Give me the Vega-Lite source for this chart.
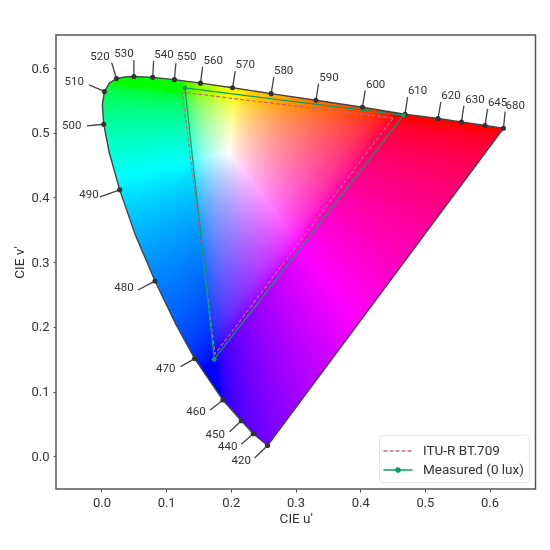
{
"$schema":"https://vega.github.io/schema/vega-lite/v6.json",
"width":479.5,"height":454,
"autosize":"none",
"padding":{"left":56,"top":35,"right":14.5,"bottom":61},
"background":"white",
"config":{"view":{"stroke":"#555555","strokeWidth":1.5},"font":"Roboto"},
"datasets":{
"locus":[
{"wl":420,"u":0.2568,"v":0.0166},{"wl":440,"u":0.2347,"v":0.035},{"wl":450,"u":0.2161,"v":0.0549},{"wl":460,"u":0.1877,"v":0.0871},{"wl":470,"u":0.1441,"v":0.151},{"wl":475,"u":0.1147,"v":0.2044},{"wl":480,"u":0.0828,"v":0.2708},{"wl":485,"u":0.0521,"v":0.3427},{"wl":490,"u":0.0282,"v":0.4117},{"wl":495,"u":0.0119,"v":0.4698},{"wl":500,"u":0.0035,"v":0.5131},{"wl":505,"u":0.0014,"v":0.5432},{"wl":510,"u":0.0046,"v":0.5638},{"wl":515,"u":0.0123,"v":0.577},{"wl":520,"u":0.0231,"v":0.5837},{"wl":525,"u":0.036,"v":0.5861},{"wl":530,"u":0.0501,"v":0.5868},{"wl":540,"u":0.0792,"v":0.5856},{"wl":550,"u":0.1127,"v":0.5821},{"wl":560,"u":0.1531,"v":0.5766},{"wl":570,"u":0.2026,"v":0.5694},{"wl":580,"u":0.2623,"v":0.5604},{"wl":590,"u":0.3315,"v":0.5501},{"wl":600,"u":0.4035,"v":0.5393},{"wl":610,"u":0.4692,"v":0.5285},{"wl":620,"u":0.5203,"v":0.5219},{"wl":630,"u":0.5565,"v":0.5165},{"wl":645,"u":0.5929,"v":0.5111},{"wl":680,"u":0.6215,"v":0.507},{"wl":700,"u":0.2568,"v":0.0166}
],
"sectors":[
{"sec":"G","i":0,"u":0.1978,"v":0.4683},{"sec":"G","i":1,"u":0.0225,"v":0.4305},{"sec":"G","i":2,"u":0.0119,"v":0.4698},{"sec":"G","i":3,"u":0.0035,"v":0.5131},{"sec":"G","i":4,"u":0.0014,"v":0.5432},{"sec":"G","i":5,"u":0.0046,"v":0.5638},{"sec":"G","i":6,"u":0.0123,"v":0.577},{"sec":"G","i":7,"u":0.0231,"v":0.5837},{"sec":"G","i":8,"u":0.036,"v":0.5861},{"sec":"G","i":9,"u":0.0501,"v":0.5868},{"sec":"G","i":10,"u":0.0792,"v":0.5856},{"sec":"G","i":11,"u":0.1127,"v":0.5821},{"sec":"G","i":12,"u":0.1531,"v":0.5766},{"sec":"G","i":13,"u":0.2026,"v":0.5694},{"sec":"G","i":14,"u":0.2045,"v":0.5692},
{"sec":"B","i":0,"u":0.1978,"v":0.4683},{"sec":"B","i":1,"u":0.399,"v":0.2079},{"sec":"B","i":2,"u":0.2568,"v":0.0166},{"sec":"B","i":3,"u":0.2347,"v":0.035},{"sec":"B","i":4,"u":0.2161,"v":0.0549},{"sec":"B","i":5,"u":0.1877,"v":0.0871},{"sec":"B","i":6,"u":0.1441,"v":0.151},{"sec":"B","i":7,"u":0.1147,"v":0.2044},{"sec":"B","i":8,"u":0.0828,"v":0.2708},{"sec":"B","i":9,"u":0.0521,"v":0.3427},{"sec":"B","i":10,"u":0.0282,"v":0.4117},{"sec":"B","i":11,"u":0.0225,"v":0.4305},
{"sec":"R","i":0,"u":0.1978,"v":0.4683},{"sec":"R","i":1,"u":0.2045,"v":0.5692},{"sec":"R","i":2,"u":0.2623,"v":0.5604},{"sec":"R","i":3,"u":0.3315,"v":0.5501},{"sec":"R","i":4,"u":0.4035,"v":0.5393},{"sec":"R","i":5,"u":0.4692,"v":0.5285},{"sec":"R","i":6,"u":0.5203,"v":0.5219},{"sec":"R","i":7,"u":0.5565,"v":0.5165},{"sec":"R","i":8,"u":0.5929,"v":0.5111},{"sec":"R","i":9,"u":0.6215,"v":0.507},{"sec":"R","i":10,"u":0.399,"v":0.2079}
],
"labels":[
{"t":"420","u":0.2568,"v":0.0166,"tu":0.2368,"tv":-0.0026,"lu":0.2161,"lv":-0.0073},
{"t":"440","u":0.2347,"v":0.035,"tu":0.2161,"tv":0.0185,"lu":0.1951,"lv":0.0139},
{"t":"450","u":0.2161,"v":0.0549,"tu":0.1981,"tv":0.038,"lu":0.1759,"lv":0.0334},
{"t":"460","u":0.1877,"v":0.0871,"tu":0.1682,"tv":0.0716,"lu":0.1461,"lv":0.0685},
{"t":"470","u":0.1441,"v":0.151,"tu":0.1224,"tv":0.1385,"lu":0.0992,"lv":0.1354},
{"t":"480","u":0.0828,"v":0.2708,"tu":0.0564,"tv":0.257,"lu":0.0348,"lv":0.2601},
{"t":"490","u":0.0282,"v":0.4117,"tu":-0.0023,"tv":0.4008,"lu":-0.0193,"lv":0.4039},
{"t":"500","u":0.0035,"v":0.5131,"tu":-0.0224,"tv":0.5105,"lu":-0.0461,"lv":0.511},
{"t":"510","u":0.0046,"v":0.5638,"tu":-0.0193,"tv":0.5739,"lu":-0.042,"lv":0.5785},
{"t":"520","u":0.0231,"v":0.5837,"tu":0.0158,"tv":0.6083,"lu":-0.0023,"lv":0.6167},
{"t":"530","u":0.0501,"v":0.5868,"tu":0.0502,"tv":0.6125,"lu":0.0348,"lv":0.6218},
{"t":"540","u":0.0792,"v":0.5856,"tu":0.0807,"tv":0.6114,"lu":0.0966,"lv":0.6207},
{"t":"550","u":0.1127,"v":0.5821,"tu":0.1151,"tv":0.6074,"lu":0.1317,"lv":0.6167},
{"t":"560","u":0.1531,"v":0.5766,"tu":0.1564,"tv":0.6022,"lu":0.1728,"lv":0.6114},
{"t":"570","u":0.2026,"v":0.5694,"tu":0.2068,"tv":0.5951,"lu":0.2223,"lv":0.6043},
{"t":"580","u":0.2623,"v":0.5604,"tu":0.2666,"tv":0.5862,"lu":0.2816,"lv":0.596},
{"t":"590","u":0.3315,"v":0.5501,"tu":0.3357,"tv":0.5759,"lu":0.3516,"lv":0.5852},
{"t":"600","u":0.4035,"v":0.5393,"tu":0.4077,"tv":0.5651,"lu":0.4238,"lv":0.5743},
{"t":"610","u":0.4692,"v":0.5285,"tu":0.4733,"tv":0.5549,"lu":0.4887,"lv":0.5641},
{"t":"620","u":0.5203,"v":0.5219,"tu":0.5247,"tv":0.5476,"lu":0.5402,"lv":0.5569},
{"t":"630","u":0.5565,"v":0.5165,"tu":0.5603,"tv":0.5419,"lu":0.5773,"lv":0.5507},
{"t":"645","u":0.5929,"v":0.5111,"tu":0.5969,"tv":0.5368,"lu":0.6124,"lv":0.5465},
{"t":"680","u":0.6215,"v":0.507,"tu":0.6241,"tv":0.5326,"lu":0.6396,"lv":0.5414}
],
"tri":[
{"s":"ITU-R BT.709","i":0,"u":0.4507,"v":0.5229},{"s":"ITU-R BT.709","i":1,"u":0.125,"v":0.5625},{"s":"ITU-R BT.709","i":2,"u":0.1754,"v":0.1579},{"s":"ITU-R BT.709","i":3,"u":0.4507,"v":0.5229},
{"s":"Measured (0 lux)","i":0,"u":0.467,"v":0.527},{"s":"Measured (0 lux)","i":1,"u":0.1291,"v":0.5692},{"s":"Measured (0 lux)","i":2,"u":0.1743,"v":0.1499},{"s":"Measured (0 lux)","i":3,"u":0.467,"v":0.527}
]
},
"encoding":{
"x":{"field":"u","type":"quantitative","scale":{"domain":[-0.0703,0.671],"nice":false,"zero":false},
"axis":{"title":"CIE u'","grid":false,"domain":false,"values":[0,0.1,0.2,0.3,0.4,0.5,0.6],"format":".1f","tickColor":"#555555","tickSize":3,"labelFontSize":13,"labelColor":"#333333","titleFontSize":13.5,"titleFontWeight":"normal","titleColor":"#333333","labelPadding":4,"titlePadding":2}},
"y":{"field":"v","type":"quantitative","scale":{"domain":[-0.0505,0.651],"nice":false,"zero":false},
"axis":{"title":"CIE v'","grid":false,"domain":false,"values":[0,0.1,0.2,0.3,0.4,0.5,0.6],"format":".1f","tickColor":"#555555","tickSize":3,"labelFontSize":13,"labelColor":"#333333","titleFontSize":13.5,"titleFontWeight":"normal","titleColor":"#333333","labelPadding":4,"titlePadding":4}}
},
"layer":[
{"data":{"name":"locus"},"mark":{"type":"line","fill":"#000000","stroke":"transparent"},"encoding":{"order":{"field":"wl"}}},

{"data":{"name":"sectors"},"transform":[{"filter":"datum.sec==='G'"}],"mark":{"type":"line","blend":"screen","stroke":"transparent","fill":"#00ff00"},"encoding":{"order":{"field":"i"}}},
{"data":{"name":"sectors"},"transform":[{"filter":"datum.sec==='G'"}],"mark":{"type":"line","blend":"screen","stroke":"transparent","fill":{"gradient":"linear","x1":0.5883,"y1":-0.05645,"x2":1.2726,"y2":-0.1221,"stops":[{"offset":0,"color":"#000000"},{"offset":0.005,"color":"#100000"},{"offset":0.01,"color":"#190000"},{"offset":0.02,"color":"#270000"},{"offset":0.04,"color":"#380000"},{"offset":0.07,"color":"#4b0000"},{"offset":0.1,"color":"#590000"},{"offset":0.15,"color":"#6c0000"},{"offset":0.2,"color":"#7c0000"},{"offset":0.3,"color":"#950000"},{"offset":0.4,"color":"#aa0000"},{"offset":0.5,"color":"#bc0000"},{"offset":0.6,"color":"#cb0000"},{"offset":0.7,"color":"#da0000"},{"offset":0.8,"color":"#e70000"},{"offset":0.9,"color":"#f30000"},{"offset":1,"color":"#ff0000"}]}},"encoding":{"order":{"field":"i"}}},
{"data":{"name":"sectors"},"transform":[{"filter":"datum.sec==='G'"}],"mark":{"type":"line","blend":"screen","stroke":"transparent","fill":{"gradient":"linear","x1":-0.00915,"y1":0.0579,"x2":-0.2023,"y2":1.2804,"stops":[{"offset":0,"color":"#000000"},{"offset":0.005,"color":"#000010"},{"offset":0.01,"color":"#000019"},{"offset":0.02,"color":"#000027"},{"offset":0.04,"color":"#000038"},{"offset":0.07,"color":"#00004b"},{"offset":0.1,"color":"#000059"},{"offset":0.15,"color":"#00006c"},{"offset":0.2,"color":"#00007c"},{"offset":0.3,"color":"#000095"},{"offset":0.4,"color":"#0000aa"},{"offset":0.5,"color":"#0000bc"},{"offset":0.6,"color":"#0000cb"},{"offset":0.7,"color":"#0000da"},{"offset":0.8,"color":"#0000e7"},{"offset":0.9,"color":"#0000f3"},{"offset":1,"color":"#0000ff"}]}},"encoding":{"order":{"field":"i"}}},
{"data":{"name":"sectors"},"transform":[{"filter":"datum.sec==='G'"}],"mark":{"type":"line","blend":"color-dodge","stroke":"transparent","fill":{"gradient":"linear","x1":1.8323,"y1":1.0639,"x2":0.04218,"y2":0.02449,"stops":[{"offset":0.1,"color":"#a6a6a6"},{"offset":0.15,"color":"#939393"},{"offset":0.2,"color":"#838383"},{"offset":0.3,"color":"#6a6a6a"},{"offset":0.4,"color":"#555555"},{"offset":0.5,"color":"#434343"},{"offset":0.6,"color":"#343434"},{"offset":0.7,"color":"#252525"},{"offset":0.8,"color":"#181818"},{"offset":0.9,"color":"#0c0c0c"},{"offset":1,"color":"#000000"}]}},"encoding":{"order":{"field":"i"}}},

{"data":{"name":"sectors"},"transform":[{"filter":"datum.sec==='B'"}],"mark":{"type":"line","blend":"screen","stroke":"transparent","fill":"#0000ff"},"encoding":{"order":{"field":"i"}}},
{"data":{"name":"sectors"},"transform":[{"filter":"datum.sec==='B'"}],"mark":{"type":"line","blend":"screen","stroke":"transparent","fill":{"gradient":"linear","x1":0.2968,"y1":-0.0444,"x2":1.2882,"y2":-0.1927,"stops":[{"offset":0,"color":"#000000"},{"offset":0.005,"color":"#100000"},{"offset":0.01,"color":"#190000"},{"offset":0.02,"color":"#270000"},{"offset":0.04,"color":"#380000"},{"offset":0.07,"color":"#4b0000"},{"offset":0.1,"color":"#590000"},{"offset":0.15,"color":"#6c0000"},{"offset":0.2,"color":"#7c0000"},{"offset":0.3,"color":"#950000"},{"offset":0.4,"color":"#aa0000"},{"offset":0.5,"color":"#bc0000"},{"offset":0.6,"color":"#cb0000"},{"offset":0.7,"color":"#da0000"},{"offset":0.8,"color":"#e70000"},{"offset":0.9,"color":"#f30000"},{"offset":1,"color":"#ff0000"}]}},"encoding":{"order":{"field":"i"}}},
{"data":{"name":"sectors"},"transform":[{"filter":"datum.sec==='B'"}],"mark":{"type":"line","blend":"screen","stroke":"transparent","fill":{"gradient":"linear","x1":0.5652,"y1":0.5115,"x2":-1.366,"y2":-1.2365,"stops":[{"offset":0,"color":"#000000"},{"offset":0.005,"color":"#001000"},{"offset":0.01,"color":"#001900"},{"offset":0.02,"color":"#002700"},{"offset":0.04,"color":"#003800"},{"offset":0.07,"color":"#004b00"},{"offset":0.1,"color":"#005900"},{"offset":0.15,"color":"#006c00"},{"offset":0.2,"color":"#007c00"},{"offset":0.3,"color":"#009500"},{"offset":0.4,"color":"#00aa00"},{"offset":0.5,"color":"#00bc00"},{"offset":0.6,"color":"#00cb00"},{"offset":0.7,"color":"#00da00"},{"offset":0.8,"color":"#00e700"},{"offset":0.9,"color":"#00f300"},{"offset":1,"color":"#00ff00"}]}},"encoding":{"order":{"field":"i"}}},
{"data":{"name":"sectors"},"transform":[{"filter":"datum.sec==='B'"}],"mark":{"type":"line","blend":"color-dodge","stroke":"transparent","fill":{"gradient":"linear","x1":0.02369,"y1":-0.2338,"x2":-0.09467,"y2":0.934,"stops":[{"offset":0.1,"color":"#a6a6a6"},{"offset":0.15,"color":"#939393"},{"offset":0.2,"color":"#838383"},{"offset":0.3,"color":"#6a6a6a"},{"offset":0.4,"color":"#555555"},{"offset":0.5,"color":"#434343"},{"offset":0.6,"color":"#343434"},{"offset":0.7,"color":"#252525"},{"offset":0.8,"color":"#181818"},{"offset":0.9,"color":"#0c0c0c"},{"offset":1,"color":"#000000"}]}},"encoding":{"order":{"field":"i"}}},

{"data":{"name":"sectors"},"transform":[{"filter":"datum.sec==='R'"}],"mark":{"type":"line","blend":"screen","stroke":"transparent","fill":"#ff0000"},"encoding":{"order":{"field":"i"}}},
{"data":{"name":"sectors"},"transform":[{"filter":"datum.sec==='R'"}],"mark":{"type":"line","blend":"screen","stroke":"transparent","fill":{"gradient":"linear","x1":0.48066,"y1":0.30923,"x2":-2.3692,"y2":-1.5242,"stops":[{"offset":0,"color":"#000000"},{"offset":0.005,"color":"#001000"},{"offset":0.01,"color":"#001900"},{"offset":0.02,"color":"#002700"},{"offset":0.04,"color":"#003800"},{"offset":0.07,"color":"#004b00"},{"offset":0.1,"color":"#005900"},{"offset":0.15,"color":"#006c00"},{"offset":0.2,"color":"#007c00"},{"offset":0.3,"color":"#009500"},{"offset":0.4,"color":"#00aa00"},{"offset":0.5,"color":"#00bc00"},{"offset":0.6,"color":"#00cb00"},{"offset":0.7,"color":"#00da00"},{"offset":0.8,"color":"#00e700"},{"offset":0.9,"color":"#00f300"},{"offset":1,"color":"#00ff00"}]}},"encoding":{"order":{"field":"i"}}},
{"data":{"name":"sectors"},"transform":[{"filter":"datum.sec==='R'"}],"mark":{"type":"line","blend":"screen","stroke":"transparent","fill":{"gradient":"linear","x1":-0.00601,"y1":0.04214,"x2":-0.27206,"y2":1.9077,"stops":[{"offset":0,"color":"#000000"},{"offset":0.005,"color":"#000010"},{"offset":0.01,"color":"#000019"},{"offset":0.02,"color":"#000027"},{"offset":0.04,"color":"#000038"},{"offset":0.07,"color":"#00004b"},{"offset":0.1,"color":"#000059"},{"offset":0.15,"color":"#00006c"},{"offset":0.2,"color":"#00007c"},{"offset":0.3,"color":"#000095"},{"offset":0.4,"color":"#0000aa"},{"offset":0.5,"color":"#0000bc"},{"offset":0.6,"color":"#0000cb"},{"offset":0.7,"color":"#0000da"},{"offset":0.8,"color":"#0000e7"},{"offset":0.9,"color":"#0000f3"},{"offset":1,"color":"#0000ff"}]}},"encoding":{"order":{"field":"i"}}},
{"data":{"name":"sectors"},"transform":[{"filter":"datum.sec==='R'"}],"mark":{"type":"line","blend":"color-dodge","stroke":"transparent","fill":{"gradient":"linear","x1":-0.17183,"y1":0.01827,"x2":0.9776,"y2":-0.10394,"stops":[{"offset":0.1,"color":"#a6a6a6"},{"offset":0.15,"color":"#939393"},{"offset":0.2,"color":"#838383"},{"offset":0.3,"color":"#6a6a6a"},{"offset":0.4,"color":"#555555"},{"offset":0.5,"color":"#434343"},{"offset":0.6,"color":"#343434"},{"offset":0.7,"color":"#252525"},{"offset":0.8,"color":"#181818"},{"offset":0.9,"color":"#0c0c0c"},{"offset":1,"color":"#000000"}]}},"encoding":{"order":{"field":"i"}}},

{"data":{"name":"sectors"},"transform":[{"filter":"datum.sec==='G' && datum.i<2"}],"mark":{"type":"line","strokeWidth":1.2,"stroke":{"gradient":"linear","x1":1,"y1":0,"x2":0,"y2":1,"stops":[{"offset":0,"color":"#ffffff"},{"offset":0.1,"color":"#d4ffff"},{"offset":0.2,"color":"#a3ffff"},{"offset":0.3,"color":"#5cffff"},{"offset":0.32,"color":"#00ffff"},{"offset":1,"color":"#00ffff"}]}},"encoding":{"order":{"field":"i"}}},
{"data":{"name":"sectors"},"transform":[{"filter":"datum.sec==='R' && datum.i<2"}],"mark":{"type":"line","strokeWidth":1.2,"stroke":{"gradient":"linear","x1":0,"y1":1,"x2":1,"y2":0,"stops":[{"offset":0,"color":"#ffffff"},{"offset":0.2,"color":"#ffffde"},{"offset":0.4,"color":"#ffffb5"},{"offset":0.6,"color":"#ffff87"},{"offset":0.8,"color":"#ffff36"},{"offset":0.839,"color":"#ffff00"},{"offset":1,"color":"#ffff00"}]}},"encoding":{"order":{"field":"i"}}},
{"data":{"name":"sectors"},"transform":[{"filter":"datum.sec==='B' && datum.i<2"}],"mark":{"type":"line","strokeWidth":1.2,"stroke":{"gradient":"linear","x1":0,"y1":0,"x2":1,"y2":1,"stops":[{"offset":0,"color":"#ffffff"},{"offset":0.1,"color":"#ffd1ff"},{"offset":0.2,"color":"#ffa8ff"},{"offset":0.3,"color":"#ff85ff"},{"offset":0.4,"color":"#ff61ff"},{"offset":0.5,"color":"#ff2bff"},{"offset":0.532,"color":"#ff00ff"},{"offset":1,"color":"#ff00ff"}]}},"encoding":{"order":{"field":"i"}}},

{"data":{"name":"locus"},"mark":{"type":"line","stroke":"#444444","strokeWidth":1.4},"encoding":{"order":{"field":"wl"}}},
{"data":{"name":"labels"},"mark":{"type":"rule","stroke":"#444444","strokeWidth":1.3},"encoding":{"x2":{"field":"tu"},"y2":{"field":"tv"}}},
{"data":{"name":"labels"},"mark":{"type":"point","filled":true,"color":"#333333","size":26,"opacity":1}},
{"data":{"name":"labels"},"mark":{"type":"text","fontSize":11.5,"color":"#333333","font":"Roboto"},"encoding":{"x":{"field":"lu","type":"quantitative"},"y":{"field":"lv","type":"quantitative"},"text":{"field":"t"}}},
{"data":{"name":"tri"},"mark":{"type":"line","strokeWidth":1.2},"encoding":{"order":{"field":"i"},
"color":{"field":"s","type":"nominal","scale":{"domain":["ITU-R BT.709","Measured (0 lux)"],"range":["#c8658a","#0c9d61"]},
"legend":{"title":null,"orient":"bottom-right","offset":7,"symbolSize":400,"symbolStrokeWidth":1.3,"symbolOffset":3,"labelFontSize":13.5,"labelColor":"#333333","labelFont":"Roboto","labelOffset":14,"rowPadding":1,"padding":5,"fillColor":"rgba(255,255,255,0.8)","strokeColor":"#e6e6e6","cornerRadius":3,
"encode":{"symbols":{"update":{"shape":[{"test":"datum.value==='Measured (0 lux)'","value":"M-1.45,0L-0.22,0A0.22,0.22 0 1 1 0.22,0A0.22,0.22 0 1 1 -0.22,0M0.22,0L1.45,0"},{"value":"M-1.45,0L1.45,0"}],"fill":[{"test":"datum.value==='Measured (0 lux)'","value":"#0c9d61"},{"value":"transparent"}]}}}}},
"strokeDash":{"field":"s","type":"nominal","scale":{"domain":["ITU-R BT.709","Measured (0 lux)"],"range":[[4,2],[1,0]]},"legend":null}}},
{"data":{"name":"tri"},"transform":[{"filter":"datum.s==='Measured (0 lux)' && datum.i<3"}],"mark":{"type":"point","filled":true,"color":"#0c9d61","size":22,"opacity":1}}
]
}
